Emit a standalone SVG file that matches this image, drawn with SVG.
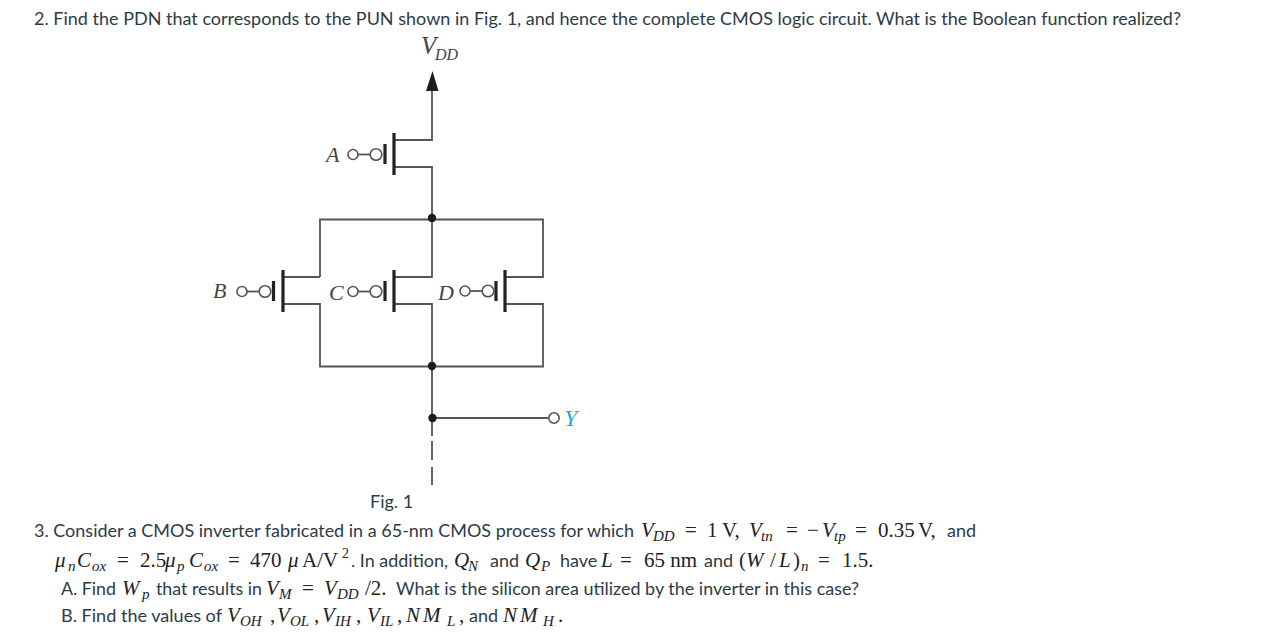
<svg xmlns="http://www.w3.org/2000/svg" width="1266" height="642" viewBox="0 0 1266 642">
<style>
.t{font-family:Lato,"Open Sans","Liberation Sans",sans-serif;font-size:18px;fill:#2d3b45}
.m{font-family:"Liberation Serif","DejaVu Serif",serif;font-size:21px;fill:#222}
.i{font-style:italic}
.s{font-size:15px;font-style:italic}
.l{font-family:"Liberation Serif",serif;font-style:italic;font-size:22px;fill:#444}
.w{fill:none;stroke:#555;stroke-width:1.8}
.g{fill:none;stroke:#222;stroke-width:3.2}
.b{fill:#fff;stroke:#555;stroke-width:1.6}
.d{fill:#1c1c1c}
</style>
<rect width="1266" height="642" fill="#fff"/>
<g id="question2"><text class="t" x="34" y="25" textLength="1147" lengthAdjust="spacingAndGlyphs">2. Find the PDN that corresponds to the PUN shown in Fig. 1, and hence the complete CMOS logic circuit. What is the Boolean function realized?</text></g>
<g id="connectors">
<path class="w" d="M432 90V140H394M394 167H432V277H394M320 277V219.500H543V277H505M320 277H283M283 304H320V366.500H543V304H505M394 304H432V418H548"/>
<path class="w" d="M432 418V436M432 441V460M432 467V485"/>
<path class="d" d="M432.500 71L438.500 91H426Z"/>
<circle class="d" cx="432" cy="218" r="4.200"/><circle class="d" cx="432" cy="366" r="4.200"/><circle class="d" cx="432.500" cy="418" r="4.200"/>
</g>
<g id="vdd"><text class="l" x="421" y="54" style="font-size:25px">V</text><text class="l" x="435" y="60" style="font-size:16px">DD</text></g>
<g id="transistor-a"><text class="l" x="326" y="162">A</text><path class="g" d="M394 133V175M385 144V164"/><path class="w" d="M358 154.500H370"/><circle class="b" cx="353" cy="154.500" r="5"/><circle class="b" cx="376" cy="154.500" r="5.800"/></g>
<g id="transistor-b"><text class="l" x="213" y="298">B</text><path class="g" d="M283 270V312M273.500 281V301"/><path class="w" d="M247 291.500H259"/><circle class="b" cx="242" cy="291.500" r="5"/><circle class="b" cx="265" cy="291.500" r="5.800"/></g>
<g id="transistor-c"><text class="l" x="329" y="300">C</text><path class="g" d="M394 270V312M385 281V301"/><path class="w" d="M358 291.500H370"/><circle class="b" cx="353" cy="291.500" r="5"/><circle class="b" cx="376" cy="291.500" r="5.800"/></g>
<g id="transistor-d"><text class="l" x="438" y="300">D</text><path class="g" d="M505 270V312M496 281V301"/><path class="w" d="M470 291H482"/><circle class="b" cx="465" cy="291" r="5"/><circle class="b" cx="488" cy="291" r="5.800"/></g>
<g id="output-y"><circle class="b" cx="554" cy="418" r="5.200"/><text class="l" x="564" y="426" style="fill:#2aa7e0;font-size:24px">Y</text></g>
<g id="caption"><text class="t" x="370" y="508">Fig. 1</text></g>
<g id="question3">
<text class="t" x="34" y="537" textLength="600" lengthAdjust="spacingAndGlyphs">3. Consider a CMOS inverter fabricated in a 65-nm CMOS process for which</text>
<text class="m i" x="641" y="537">V</text><text class="m s" x="653" y="541">DD</text><text class="m" x="685" y="537">=</text><text class="m" x="707" y="537">1</text><text class="m" x="722" y="537">V,</text><text class="m i" x="749" y="537">V</text><text class="m s" x="761" y="541">tn</text><text class="m" x="786" y="537">=</text><text class="m" x="807" y="537">−</text><text class="m i" x="822" y="537">V</text><text class="m s" x="834" y="541">tp</text><text class="m" x="855" y="537">=</text><text class="m" x="878" y="537">0.35</text><text class="m" x="918" y="537">V,</text><text class="t" x="947" y="537">and</text>
<text class="m i" x="55" y="567">μ</text><text class="m s" x="68" y="571">n</text><text class="m i" x="77" y="567">C</text><text class="m s" x="92" y="571">ox</text><text class="m" x="117" y="567">=</text><text class="m" x="140" y="567">2.5</text><text class="m i" x="165" y="567">μ</text><text class="m s" x="177" y="571">p</text><text class="m i" x="189" y="567">C</text><text class="m s" x="204" y="571">ox</text><text class="m" x="228" y="567">=</text><text class="m" x="250" y="567">470</text><text class="m i" x="288" y="567">μ</text><text class="m" x="302" y="567">A/V</text><text class="m" x="342" y="558" style="font-size:14px">2</text><text class="t" x="351" y="567" textLength="97" lengthAdjust="spacingAndGlyphs">. In addition,</text>
<text class="m i" x="454" y="567">Q</text><text class="m s" x="468" y="571">N</text><text class="t" x="490" y="567">and</text><text class="m i" x="525" y="567">Q</text><text class="m s" x="541" y="571">P</text><text class="t" x="560" y="567">have</text><text class="m i" x="601" y="567">L</text><text class="m" x="620" y="567">=</text><text class="m" x="644" y="567">65 nm</text><text class="t" x="704" y="567">and</text><text class="m" x="739" y="567">(</text><text class="m i" x="746" y="567">W</text><text class="m" x="770" y="567">/</text><text class="m i" x="779" y="567">L</text><text class="m" x="793" y="567">)</text><text class="m s" x="801" y="571">n</text><text class="m" x="818" y="567">=</text><text class="m" x="842" y="567">1.5.</text>
<text class="t" x="61" y="595" textLength="55" lengthAdjust="spacingAndGlyphs">A. Find</text><text class="m i" x="122" y="595">W</text><text class="m s" x="142" y="599">p</text><text class="t" x="156" y="595" textLength="106" lengthAdjust="spacingAndGlyphs">that results in</text><text class="m i" x="266" y="595">V</text><text class="m s" x="279" y="599">M</text><text class="m" x="302" y="595">=</text><text class="m i" x="324" y="595">V</text><text class="m s" x="337" y="599">DD</text><text class="m" x="365" y="595">/2.</text><text class="t" x="396" y="595" textLength="463" lengthAdjust="spacingAndGlyphs">What is the silicon area utilized by the inverter in this case?</text>
<text class="t" x="61" y="622" textLength="161" lengthAdjust="spacingAndGlyphs">B. Find the values of</text><text class="m i" x="227" y="622">V</text><text class="m s" x="240" y="626">OH</text><text class="m" x="270" y="622">,</text><text class="m i" x="277" y="622">V</text><text class="m s" x="290" y="626">OL</text><text class="m" x="314" y="622">,</text><text class="m i" x="322" y="622">V</text><text class="m s" x="335" y="626">IH</text><text class="m" x="356" y="622">,</text><text class="m i" x="367" y="622">V</text><text class="m s" x="380" y="626">IL</text><text class="m" x="397" y="622">,</text><text class="m i" x="406" y="622">N</text><text class="m i" x="423" y="622">M</text><text class="m s" x="447" y="626">L</text><text class="m" x="459" y="622">,</text><text class="t" x="469" y="622">and</text><text class="m i" x="503" y="622">N</text><text class="m i" x="520" y="622">M</text><text class="m s" x="543" y="626">H</text><text class="m" x="558" y="622">.</text>
</g>
</svg>
